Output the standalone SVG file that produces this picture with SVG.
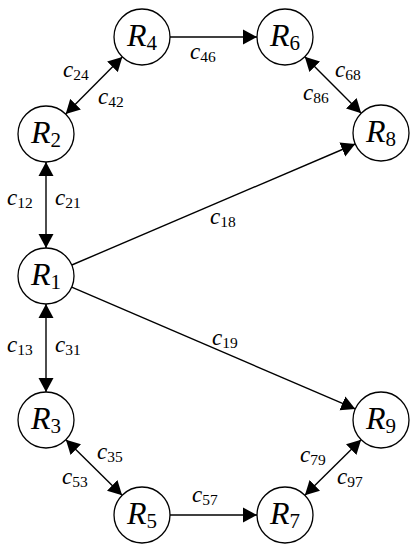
<svg xmlns="http://www.w3.org/2000/svg" width="417" height="550" viewBox="0 0 417 550">
<style>
.node circle{fill:#fff;stroke:#000;stroke-width:1.3}
.nl{font-family:"Liberation Serif",serif;font-size:32px;text-anchor:middle;fill:#000}
.nl .v{font-style:italic}
.nl .s{font-size:21px}
.edge{stroke:#000;stroke-width:1.4;fill:none}
.lbl{font-family:"Liberation Serif",serif;font-size:23px;fill:#000}
.lbl .v{font-style:italic}
.lbl .s{font-size:15.5px}
</style>
<defs>
<marker id="ah" markerUnits="userSpaceOnUse" markerWidth="14" markerHeight="16" refX="14" refY="7.5" orient="auto-start-reverse" viewBox="0 0 14 15">
<path d="M0,0 L14,7.5 L0,15 z" fill="#000"/>
</marker>
</defs>
<rect width="417" height="550" fill="#fff"/>
<g id="connectors">
<line class="edge" x1="46" y1="248" x2="46" y2="162" marker-start="url(#ah)" marker-end="url(#ah)"/>
<line class="edge" x1="46" y1="304" x2="46" y2="392" marker-start="url(#ah)" marker-end="url(#ah)"/>
<line class="edge" x1="65.7" y1="114.1" x2="122.3" y2="56.9" marker-start="url(#ah)" marker-end="url(#ah)"/>
<line class="edge" x1="304.8" y1="56.8" x2="361.2" y2="113.2" marker-start="url(#ah)" marker-end="url(#ah)"/>
<line class="edge" x1="65.9" y1="439.7" x2="122.1" y2="495.3" marker-start="url(#ah)" marker-end="url(#ah)"/>
<line class="edge" x1="304.9" y1="495.3" x2="361.1" y2="439.7" marker-start="url(#ah)" marker-end="url(#ah)"/>
<line class="edge" x1="170" y1="37" x2="257" y2="37" marker-end="url(#ah)"/>
<line class="edge" x1="170" y1="515" x2="257" y2="515" marker-end="url(#ah)"/>
<line class="edge" x1="71.8" y1="265" x2="355.2" y2="144" marker-end="url(#ah)"/>
<line class="edge" x1="71.7" y1="287.1" x2="355.3" y2="408.9" marker-end="url(#ah)"/>
</g>
<g id="edge-labels">
<text class="lbl" x="63" y="77"><tspan class="v">c</tspan><tspan class="s" dy="3">24</tspan></text>
<text class="lbl" x="98" y="104"><tspan class="v">c</tspan><tspan class="s" dy="3">42</tspan></text>
<text class="lbl" x="190" y="59"><tspan class="v">c</tspan><tspan class="s" dy="3">46</tspan></text>
<text class="lbl" x="335" y="77"><tspan class="v">c</tspan><tspan class="s" dy="3">68</tspan></text>
<text class="lbl" x="303" y="100"><tspan class="v">c</tspan><tspan class="s" dy="3">86</tspan></text>
<text class="lbl" x="7" y="205"><tspan class="v">c</tspan><tspan class="s" dy="3">12</tspan></text>
<text class="lbl" x="55" y="205"><tspan class="v">c</tspan><tspan class="s" dy="3">21</tspan></text>
<text class="lbl" x="210" y="224"><tspan class="v">c</tspan><tspan class="s" dy="3">18</tspan></text>
<text class="lbl" x="212" y="345"><tspan class="v">c</tspan><tspan class="s" dy="3">19</tspan></text>
<text class="lbl" x="7" y="352"><tspan class="v">c</tspan><tspan class="s" dy="3">13</tspan></text>
<text class="lbl" x="55" y="352"><tspan class="v">c</tspan><tspan class="s" dy="3">31</tspan></text>
<text class="lbl" x="97" y="459"><tspan class="v">c</tspan><tspan class="s" dy="3">35</tspan></text>
<text class="lbl" x="62" y="484"><tspan class="v">c</tspan><tspan class="s" dy="3">53</tspan></text>
<text class="lbl" x="192" y="502"><tspan class="v">c</tspan><tspan class="s" dy="3">57</tspan></text>
<text class="lbl" x="300" y="462"><tspan class="v">c</tspan><tspan class="s" dy="3">79</tspan></text>
<text class="lbl" x="337" y="484"><tspan class="v">c</tspan><tspan class="s" dy="3">97</tspan></text>
</g>
<g id="R1" class="node"><circle cx="46" cy="276" r="28"/><text class="nl" x="46" y="285"><tspan class="v">R</tspan><tspan class="s" dy="4">1</tspan></text></g>
<g id="R2" class="node"><circle cx="46" cy="134" r="28"/><text class="nl" x="46" y="143"><tspan class="v">R</tspan><tspan class="s" dy="4">2</tspan></text></g>
<g id="R3" class="node"><circle cx="46" cy="420" r="28"/><text class="nl" x="46" y="429"><tspan class="v">R</tspan><tspan class="s" dy="4">3</tspan></text></g>
<g id="R4" class="node"><circle cx="142" cy="37" r="28"/><text class="nl" x="142" y="46"><tspan class="v">R</tspan><tspan class="s" dy="4">4</tspan></text></g>
<g id="R5" class="node"><circle cx="142" cy="515" r="28"/><text class="nl" x="142" y="524"><tspan class="v">R</tspan><tspan class="s" dy="4">5</tspan></text></g>
<g id="R6" class="node"><circle cx="285" cy="37" r="28"/><text class="nl" x="285" y="46"><tspan class="v">R</tspan><tspan class="s" dy="4">6</tspan></text></g>
<g id="R7" class="node"><circle cx="285" cy="515" r="28"/><text class="nl" x="285" y="524"><tspan class="v">R</tspan><tspan class="s" dy="4">7</tspan></text></g>
<g id="R8" class="node"><circle cx="381" cy="133" r="28"/><text class="nl" x="381" y="142"><tspan class="v">R</tspan><tspan class="s" dy="4">8</tspan></text></g>
<g id="R9" class="node"><circle cx="381" cy="420" r="28"/><text class="nl" x="381" y="429"><tspan class="v">R</tspan><tspan class="s" dy="4">9</tspan></text></g>
</svg>
